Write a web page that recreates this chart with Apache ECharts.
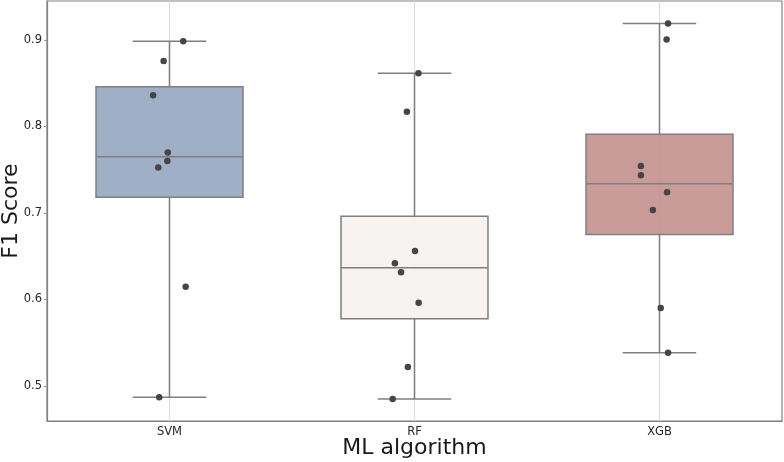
<!DOCTYPE html>
<html>
<head>
<meta charset="utf-8">
<script src="https://cdn.jsdelivr.net/npm/echarts@6/dist/echarts.min.js"></script>
<style>
html,body{margin:0;padding:0;background:#fff;}
#chart{width:784px;height:462px;}
</style>
</head>
<body>
<div id="chart"></div>
<script>
// ---- data ----
var categories = ['SVM', 'RF', 'XGB'];
var svmScores = [0.8985, 0.8757, 0.836, 0.770, 0.760, 0.7524, 0.6148, 0.487];
var rfScores  = [0.8615, 0.8171, 0.656, 0.6418, 0.6314, 0.5962, 0.522, 0.485];
var xgbScores = [0.9189, 0.9004, 0.7543, 0.7436, 0.7239, 0.7035, 0.590, 0.5385];
// horizontal jitter of each point (fraction of a category band)
var svmJitter = [0.056, -0.024, -0.067, -0.007, -0.009, -0.046, 0.066, -0.042];
var rfJitter  = [0.016, -0.031, 0.002, -0.080, -0.055, 0.017, -0.027, -0.089];
var xgbJitter = [0.035, 0.029, -0.076, -0.076, 0.031, -0.027, 0.005, 0.035];
var yTicks = [0.5, 0.6, 0.7, 0.8, 0.9];

var allScores = [svmScores, rfScores, xgbScores];
var allJitter = [svmJitter, rfJitter, xgbJitter];
var boxColors = ['rgba(147,166,192,0.9)', 'rgba(246,242,240,0.9)', 'rgba(195,145,143,0.9)'];

function quantile(asc, p) {
  var h = (asc.length - 1) * p, lo = Math.floor(h), hi = Math.min(lo + 1, asc.length - 1);
  return asc[lo] + (h - lo) * (asc[hi] - asc[lo]);
}
var boxData = allScores.map(function (arr, i) {
  var asc = arr.slice().sort(function (a, b) { return a - b; });
  return [i, asc[0], quantile(asc, 0.25), quantile(asc, 0.5), quantile(asc, 0.75), asc[asc.length - 1]];
});
var pointData = [];
allScores.forEach(function (arr, i) {
  arr.forEach(function (v, j) { pointData.push([i + allJitter[i][j], v]); });
});

var lineColor = '#7f7f7f';
var chart = echarts.init(document.getElementById('chart'));
chart.setOption({
  animation: false,
  backgroundColor: '#ffffff',
  grid: { left: 47, right: 2, top: 1, bottom: 41, containLabel: false, outerBoundsMode: 'none',
    show: true, borderColor: '#808080', borderWidth: 1.2 },
  xAxis: [{
    type: 'category', data: categories, boundaryGap: true,
    axisLine: { show: true, onZero: false, lineStyle: { color: '#808080', width: 1.2 } },
    axisTick: { show: false },
    axisLabel: { color: '#262626', fontSize: 11.5, fontFamily: 'DejaVu Sans', margin: 5 },
    splitLine: { show: false },
    name: 'ML algorithm', nameLocation: 'middle', nameGap: 16, nameMoveOverlap: false,
    nameTextStyle: { color: '#1a1a1a', fontSize: 22, fontFamily: 'DejaVu Sans', verticalAlign: 'top' }
  }, {
    type: 'value', min: -0.5, max: 2.5, show: false
  }],
  yAxis: {
    type: 'value', min: 0.4595, max: 0.945,
    axisLine: { show: true, onZero: false, lineStyle: { color: '#808080', width: 1.2 } },
    axisTick: { show: true, length: 3, lineStyle: { color: '#9a9a9a' }, customValues: yTicks },
    axisLabel: { color: '#262626', fontSize: 11.5, fontFamily: 'DejaVu Sans', margin: 5, customValues: yTicks,
      formatter: function (v) { return v.toFixed(1); } },
    splitLine: { show: false },
    name: 'F1 Score', nameLocation: 'middle', nameGap: 25, nameMoveOverlap: false,
    nameTextStyle: { color: '#1a1a1a', fontSize: 22, fontFamily: 'DejaVu Sans' }
  },
  series: [{
    type: 'custom', xAxisIndex: 0, yAxisIndex: 0, z: 1,
    data: boxData,
    renderItem: function (params, api) {
      var cs = params.coordSys;
      var x = api.coord([api.value(0), api.value(3)])[0];
      return { type: 'line', shape: { x1: x, y1: cs.y, x2: x, y2: cs.y + cs.height },
        style: { stroke: '#dedede', lineWidth: 1.2 } };
    }
  }, {
    type: 'custom', xAxisIndex: 0, yAxisIndex: 0, z: 2,
    data: boxData,
    renderItem: function (params, api) {
      var idx = api.value(0);
      var band = api.size([1, 0])[0];
      var pMin = api.coord([idx, api.value(1)]);
      var pQ1 = api.coord([idx, api.value(2)]);
      var pMed = api.coord([idx, api.value(3)]);
      var pQ3 = api.coord([idx, api.value(4)]);
      var pMax = api.coord([idx, api.value(5)]);
      var x = pMed[0], bw = band * 0.6, cw = band * 0.3;
      var ls = { stroke: lineColor, lineWidth: 1.5 };
      return { type: 'group', children: [
        { type: 'line', shape: { x1: x, y1: pMax[1], x2: x, y2: pQ3[1] }, style: ls },
        { type: 'line', shape: { x1: x, y1: pQ1[1], x2: x, y2: pMin[1] }, style: ls },
        { type: 'line', shape: { x1: x - cw / 2, y1: pMax[1], x2: x + cw / 2, y2: pMax[1] }, style: ls },
        { type: 'line', shape: { x1: x - cw / 2, y1: pMin[1], x2: x + cw / 2, y2: pMin[1] }, style: ls },
        { type: 'rect', shape: { x: x - bw / 2, y: pQ3[1], width: bw, height: pQ1[1] - pQ3[1] },
          style: { fill: boxColors[idx], stroke: lineColor, lineWidth: 1.5 } },
        { type: 'line', shape: { x1: x - bw / 2, y1: pMed[1], x2: x + bw / 2, y2: pMed[1] }, style: ls }
      ] };
    }
  }, {
    type: 'scatter', xAxisIndex: 1, yAxisIndex: 0, z: 3,
    data: pointData, symbolSize: 6.5,
    itemStyle: { color: '#454545', opacity: 1 }
  }]
});
</script>
</body>
</html>
